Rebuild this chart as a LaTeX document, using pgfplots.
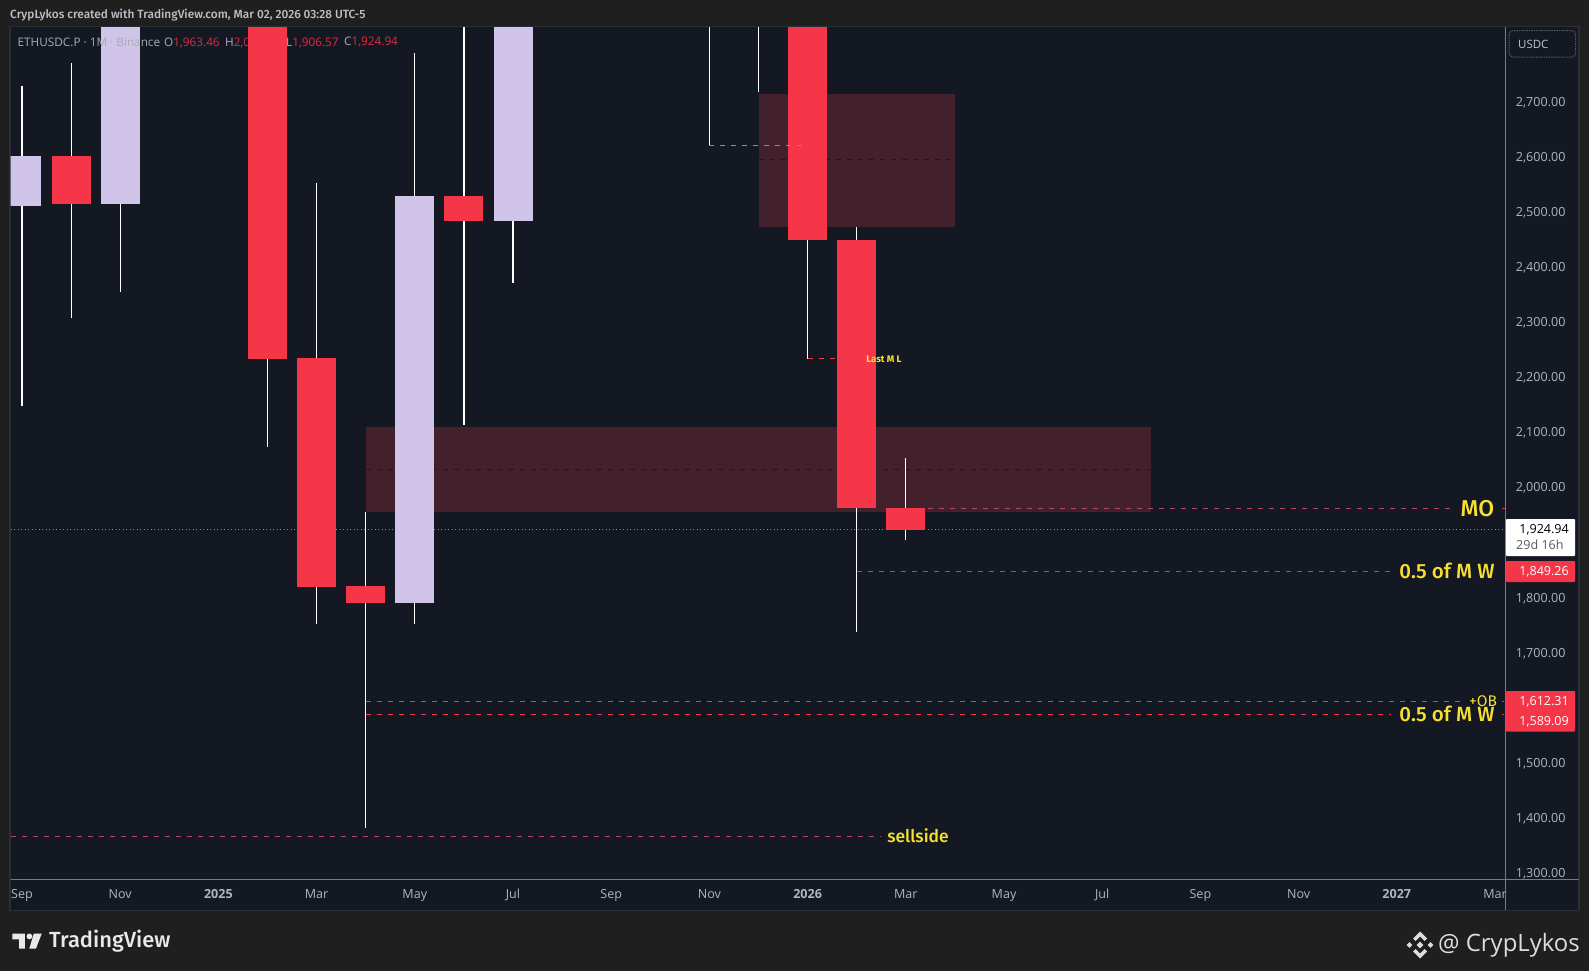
\documentclass[border=0pt]{standalone}
\usepackage{fontspec}
\setmainfont{Fira Sans}
\newfontfamily\medf{Fira Sans Medium}
\newfontfamily\lightf{Open Sans}
\usepackage{pgfplots}
\usepackage{pgfplotstable}
\pgfplotsset{compat=1.18}
\definecolor{pagebg}{HTML}{1F1F1F}
\definecolor{chartbg}{HTML}{141823}
\definecolor{frame}{HTML}{2A2E39}
\definecolor{axisc}{HTML}{787B86}
\definecolor{tickc}{HTML}{B2B5BE}
\definecolor{bear}{HTML}{F43648}
\definecolor{bull}{HTML}{D1C4E9}
\definecolor{zone}{HTML}{42202C}
\definecolor{zonemid}{HTML}{1C181F}
\definecolor{ylw}{HTML}{F7E12E}
\definecolor{dimred}{HTML}{B8475F}
\definecolor{legred}{HTML}{E02B3F}
\definecolor{leggray}{HTML}{A9ACB5}
% month index (0 = Sep 2024), open, high, low, close
\pgfplotstableread{
m  o    h    l    c
0  2513 2730 2150 2603
2  2517 3720 2357 3700
8  1791 2791 1753 2531
10 2485 3860 2373 3700
11 3700 4950 3360 4390
}\bullish
\pgfplotstableread{
m  o    h    l    c
1  2603 2773 2309 2517
3  3705 4100 3100 3330
4  3330 3740 2920 3300
5  3300 3440 2075 2235
6  2237 2554 1753 1821
7  1823 1957 1383 1791
9  2531 2880 2114 2485
12 4390 4760 3820 4140
13 4140 4750 3430 3850
14 3850 4170 2622 2990
15 2990 3450 2719 2970
16 2970 3400 2235 2450
17 2450 2474 1738 1963.46
18 1963.46 2055 1906.57 1924.94
}\bearish
\begin{document}
\begin{tikzpicture}
\useasboundingbox (0,0) rectangle (1589bp,-971bp);
\begin{scope}[x=1bp,y=-1bp]
\fill[pagebg] (0,0) rectangle (1589,971);
\fill[chartbg,draw=frame,line width=1.5bp] (10,26.5) rectangle (1579,910.5);
% header
\node[anchor=west,inner sep=0,font=\fontsize{11.9}{12}\selectfont\medf,text=tickc!85!white] at (10,15) {CrypLykos created with TradingView.com, Mar 02, 2026 03:28 UTC-5};
% legend values (sit under the candles)
\begin{scope}[every node/.style={anchor=west,inner sep=0,font=\lightf\fontsize{11.8}{12}\selectfont}]
\node at (164,42.5) {\textcolor{leggray}{O}\textcolor{legred}{1,963.46}};
\node at (225,42.5) {\textcolor{leggray}{H}\textcolor{legred}{2,054.90}};
\node at (286,42.5) {\textcolor{leggray}{L}\textcolor{legred}{1,906.57}};
\node at (344,42.5) {\textcolor{leggray}{C}\textcolor{legred}{1,924.94}};
\end{scope}
\end{scope}
\begin{axis}[
  at={(10.5bp,-879.3bp)},anchor=south west,
  scale only axis,width=1494.9bp,height=852.3bp,
  xmin=-0.2342,xmax=30.212,ymin=1289.5,ymax=2837.8,
  axis line style={draw=none},
  major tick length=0pt,
  xtick={0,2,...,30},
  xticklabels={Sep,Nov,\textbf{2025},Mar,May,Jul,Sep,Nov,\textbf{2026},Mar,May,Jul,Sep,Nov,\textbf{2027},Mar},
  ytick={1300,1400,...,2700},
  yticklabel pos=right,
  tick label style={text=tickc,font=\lightf\fontsize{12.6}{13}\selectfont},
  yticklabel style={anchor=west,xshift=7bp,/pgf/number format/.cd,fixed,fixed zerofill,precision=2,1000 sep={,},assume math mode=true},
  xticklabel style={anchor=base,yshift=-19.5bp},
  scaled y ticks=false,
  clip=true,
]
% zones
\addplot[fill=zone,draw=none,forget plot] coordinates {(15,2474)(19,2474)(19,2717)(15,2717)} --cycle;
\addplot[fill=zone,draw=none,forget plot] coordinates {(7,1957)(23,1957)(23,2112)(7,2112)} --cycle;
% zone mid lines
\addplot[zonemid,line width=0.8bp,dash pattern=on 5bp off 6bp,forget plot] coordinates {(15,2597)(19,2597)};
\addplot[zonemid,line width=0.8bp,dash pattern=on 5bp off 6bp,forget plot] coordinates {(7,2035)(23,2035)};
% last price line
\addplot[tickc!70!chartbg,line width=0.8bp,dash pattern=on 1bp off 2.5bp,forget plot] coordinates {(-0.2342,1924.94)(30.212,1924.94)};
% levels
\addplot[dimred,line width=0.9bp,dash pattern=on 5bp off 6bp,forget plot] coordinates {(18,1963.46)(30.212,1963.46)};
\addplot[dimred,line width=0.9bp,dash pattern=on 5bp off 6bp,forget plot] coordinates {(17,1849.26)(30.212,1849.26)};
\addplot[bear,line width=1bp,dash pattern=on 5bp off 6bp,forget plot] coordinates {(7,1612.31)(30.212,1612.31)};
\addplot[bear,line width=1bp,dash pattern=on 5bp off 6bp,forget plot] coordinates {(7,1589.09)(30.212,1589.09)};
\addplot[dimred,line width=0.9bp,dash pattern=on 5bp off 6bp,forget plot] coordinates {(-0.2342,1368)(17.5,1368)};
\addplot[bear,line width=0.9bp,dash pattern=on 5bp off 6bp,forget plot] coordinates {(16,2235)(17,2235)};
% wicks
\addplot[draw=none,mark=none,forget plot,error bars/.cd,y dir=both,y explicit,error mark=none,error bar style={white,line width=1.2bp,solid}]
  table[x=m,y expr=(\thisrow{h}+\thisrow{l})/2,y error expr=(\thisrow{h}-\thisrow{l})/2] {\bullish};
\addplot[draw=none,mark=none,forget plot,error bars/.cd,y dir=both,y explicit,error mark=none,error bar style={white,line width=1.2bp,solid}]
  table[x=m,y expr=(\thisrow{h}+\thisrow{l})/2,y error expr=(\thisrow{h}-\thisrow{l})/2] {\bearish};
% bodies
\addplot[draw=none,mark=none,forget plot,error bars/.cd,y dir=both,y explicit,error mark=none,error bar style={bull,line width=39bp,solid}]
  table[x=m,y expr=(\thisrow{o}+\thisrow{c})/2,y error expr=(\thisrow{c}-\thisrow{o})/2] {\bullish};
\addplot[draw=none,mark=none,forget plot,error bars/.cd,y dir=both,y explicit,error mark=none,error bar style={bear,line width=39bp,solid}]
  table[x=m,y expr=(\thisrow{o}+\thisrow{c})/2,y error expr=(\thisrow{o}-\thisrow{c})/2] {\bearish};
% grey level runs over the January candle
\addplot[axisc!85!white,line width=0.9bp,dash pattern=on 5bp off 6bp,forget plot] coordinates {(14,2622)(15.88,2622)};
\end{axis}
\begin{scope}[x=1bp,y=-1bp]
% symbol name over candles
\node[anchor=west,inner sep=0,font=\lightf\fontsize{11.8}{12}\selectfont,text=leggray] at (17.5,42.5) {ETHUSDC.P · 1M · Binance};
% axis rules
\draw[axisc,line width=1bp] (10.5,879.3) -- (1579,879.3);
\draw[axisc,line width=1bp] (1505.4,27) -- (1505.4,910);
% USDC box
\draw[frame!80!white,line width=1bp,rounded corners=4bp,fill=chartbg,dash pattern=on 1.5bp off 1bp] (1509,30.7) rectangle (1575.7,57);
\node[anchor=west,inner sep=0,font=\lightf\fontsize{11.5}{12}\selectfont,text=tickc!80!white] at (1518,44.7) {USDC};
% price boxes
\fill[white,rounded corners=1bp] (1505.9,519) rectangle (1575,556);
\node[anchor=east,inner sep=0,font=\lightf\fontsize{12.6}{13}\selectfont,text=black] at (1569,530) {1,924.94};
\node[anchor=west,inner sep=0,font=\lightf\fontsize{12.6}{13}\selectfont,text=black!65] at (1516,545) {29d 16h};
\fill[bear,rounded corners=1bp] (1505.9,561) rectangle (1575,582);
\node[anchor=east,inner sep=0,font=\lightf\fontsize{12.6}{13}\selectfont,text=white] at (1569,571.5) {1,849.26};
\fill[bear,rounded corners=1bp] (1505.9,691) rectangle (1575,731.7);
\node[anchor=east,inner sep=0,font=\lightf\fontsize{12.6}{13}\selectfont,text=white] at (1569,701.5) {1,612.31};
\node[anchor=east,inner sep=0,font=\lightf\fontsize{12.6}{13}\selectfont,text=white] at (1569,721.3) {1,589.09};
% gaps behind drawn labels
\fill[chartbg] (1450,499) rectangle (1502,518);
\fill[chartbg] (1391,562) rectangle (1502,581);
\fill[chartbg] (1391,707) rectangle (1502,723);
\fill[chartbg] (1466,696) rectangle (1502,706);
% drawn labels
\node[inner sep=0,font=\fontsize{23}{24}\selectfont\medf,text=ylw] at (1477.5,508.5) {MO};
\node[inner sep=0,font=\fontsize{20.6}{21}\selectfont\medf,text=ylw] at (1447,571.3) {0.5 of M W};
\node[inner sep=0,font=\fontsize{15.5}{16}\selectfont,text=ylw] at (1483,701.5) {+OB};
\node[inner sep=0,font=\fontsize{20.6}{21}\selectfont\medf,text=ylw] at (1447,714.3) {0.5 of M W};
\node[inner sep=2bp,fill=chartbg,font=\fontsize{17.5}{18}\selectfont\medf,text=ylw] at (918,836) {sellside};
\node[inner sep=0,font=\fontsize{9.6}{10}\selectfont\bfseries,text=ylw] at (884,359) {Last M L};
% TradingView logo
\fill[white!90!pagebg] (12.3,933.5) -- (24.8,933.5) -- (24.8,948.5) -- (19,948.5) -- (19,939.3) -- (12.3,939.3) -- cycle;
\fill[white!90!pagebg] (29.4,936.4) circle (2.9);
\fill[white!90!pagebg] (33.8,933.5) -- (41.8,933.5) -- (36,948.5) -- (29.3,948.5) -- cycle;
\node[anchor=west,inner sep=0,font=\fontsize{22}{24}\selectfont\medf,text=white!90!pagebg] at (49,941) {TradingView};
% Binance-style logo
\begin{scope}[shift={(1420,945)}]
\fill[white!85!pagebg] (0,-13.5) -- (7,-6.5) -- (4.5,-4) -- (0,-8.5) -- (-4.5,-4) -- (-7,-6.5) -- cycle;
\fill[white!85!pagebg] (0,13.5) -- (7,6.5) -- (4.5,4) -- (0,8.5) -- (-4.5,4) -- (-7,6.5) -- cycle;
\fill[white!85!pagebg] (0,-3.3) -- (3.3,0) -- (0,3.3) -- (-3.3,0) -- cycle;
\fill[white!85!pagebg] (-10.5,-2.8) -- (-7.7,0) -- (-10.5,2.8) -- (-13.3,0) -- cycle;
\fill[white!85!pagebg] (10.5,-2.8) -- (7.7,0) -- (10.5,2.8) -- (13.3,0) -- cycle;
\end{scope}
\node[anchor=east,inner sep=0,font=\lightf\fontsize{24}{26}\selectfont,text=white!85!pagebg] at (1580,945) {@ CrypLykos};
\end{scope}
\end{tikzpicture}
\end{document}
